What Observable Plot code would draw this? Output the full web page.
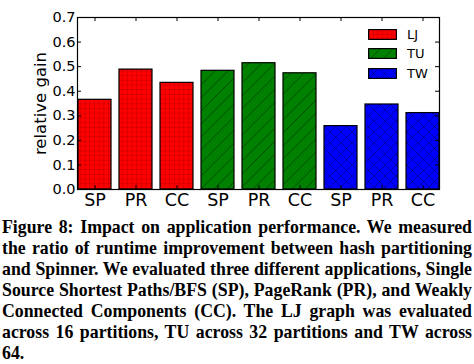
<!DOCTYPE html>
<html>
<head>
<meta charset="utf-8">
<script src="https://cdn.jsdelivr.net/npm/d3@7"></script>
<script src="https://cdn.jsdelivr.net/npm/@observablehq/plot@0.6"></script>
<style>
  html, body { margin: 0; padding: 0; background: #fff; }
  #wrap { position: relative; width: 474px; height: 364px; overflow: hidden; }
  #chart svg { display: block; }
  #legend { position: absolute; left: 368px; top: 24.5px; font-family: "DejaVu Sans", sans-serif; font-size: 13px; color: #000; }
  #legend .row { display: flex; align-items: center; height: 19.5px; }
  #legend svg { display: block; margin-right: 10px; }
  #caption { font-family: "Liberation Serif", "Times New Roman", serif; font-weight: bold; font-size: 17.8px; line-height: 21px; color: #000; padding: 0 2px; margin-top: 6.3px; }
  #caption span { display: block; text-align: justify; text-align-last: justify; white-space: nowrap; }
  #caption span.last { text-align-last: left; }
</style>
</head>
<body>
<svg width="0" height="0" style="position:absolute">
  <defs>
    <pattern id="hatch-LJ" patternUnits="userSpaceOnUse" width="4.7" height="4.7">
      <rect width="4.7" height="4.7" fill="#ff0000"/>
      <path d="M0,0V4.7M0,0H4.7" stroke="#000" stroke-opacity="0.35" stroke-width="0.7"/>
    </pattern>
    <pattern id="hatch-TU" patternUnits="userSpaceOnUse" width="13" height="13">
      <rect width="13" height="13" fill="#008000"/>
      <path d="M-2,15L15,-2M-2,2L2,-2M11,15L15,11" stroke="#000" stroke-opacity="0.45" stroke-width="0.8"/>
    </pattern>
    <pattern id="hatch-TW" patternUnits="userSpaceOnUse" width="11" height="11">
      <rect width="11" height="11" fill="#0000ff"/>
      <path d="M-1,12L12,-1M-1,-1L12,12" stroke="#000" stroke-opacity="0.4" stroke-width="0.8"/>
    </pattern>
  </defs>
</svg>
<div id="wrap">
  <div id="chart"></div>
  <div id="legend"></div>
  <div id="caption">
    <span>Figure 8: Impact on application performance. We measured</span>
    <span>the ratio of runtime improvement between hash partitioning</span>
    <span>and Spinner. We evaluated three different applications, Single</span>
    <span>Source Shortest Paths/BFS (SP), PageRank (PR), and Weakly</span>
    <span>Connected Components (CC). The LJ graph was evaluated</span>
    <span>across 16 partitions, TU across 32 partitions and TW across</span>
    <span class="last">64.</span>
  </div>
</div>
<script>
const groups = ["LJ", "TU", "TW"];
const apps = ["SP", "PR", "CC"];
const ljValues = [0.365, 0.488, 0.434];
const tuValues = [0.483, 0.514, 0.473];
const twValues = [0.258, 0.346, 0.311];
const yTicks = [0, 0.1, 0.2, 0.3, 0.4, 0.5, 0.6, 0.7];

const seriesValues = {LJ: ljValues, TU: tuValues, TW: twValues};
const rows = groups.flatMap(g => apps.map((a, i) => ({group: g, app: a, key: g + "-" + a, value: seriesValues[g][i]})));
const keys = rows.map(r => r.key);

const W = 474, H = 211;
const mL = 77, mR = 35, mT = 17, mB = 22;
const pw = W - mL - mR, ph = H - mT - mB;

const chart = Plot.plot({
  width: W, height: H,
  marginLeft: mL, marginRight: mR, marginTop: mT, marginBottom: mB,
  style: {fontFamily: "DejaVu Sans, sans-serif", fontSize: "14px", color: "#000", background: "#fff", overflow: "visible"},
  x: {domain: keys, paddingInner: 0.2, paddingOuter: 0, axis: null, label: null},
  y: {domain: [0, 0.7], axis: null, label: null},
  marks: [
    ...groups.map(g => Plot.barY(rows.filter(r => r.group === g), {x: "key", y: "value", fill: `url(#hatch-${g})`, stroke: "#000", strokeWidth: 1.2})),
    Plot.frame({stroke: "#000", strokeWidth: 1.2}),
    Plot.tickY(yTicks, {y: d => d, insetRight: pw - 4, stroke: "#000"}),
    Plot.tickY(yTicks, {y: d => d, insetLeft: pw - 4, stroke: "#000"}),
    Plot.tickX(keys, {x: d => d, insetBottom: ph - 4, stroke: "#000"}),
    Plot.tickX(keys, {x: d => d, insetTop: ph - 4, stroke: "#000"}),
    Plot.axisY(yTicks, {anchor: "left", label: null, tickSize: 0, tickPadding: 2, tickFormat: d3.format(".1f"), fontSize: 14.5}),
    Plot.axisX(keys, {anchor: "bottom", label: null, tickSize: 0, tickPadding: 4, tickFormat: k => k.split("-")[1], fontSize: 17.5}),
    Plot.text(["relative gain"], {frameAnchor: "left", text: d => d, rotate: -90, dx: -37, fontSize: 16.5, textAnchor: "middle", lineAnchor: "middle"})
  ]
});
document.getElementById("chart").appendChild(chart);

const legend = document.getElementById("legend");
for (const g of groups) {
  const row = document.createElement("div");
  row.className = "row";
  row.innerHTML = `<svg width="29" height="11"><rect x="0.6" y="0.6" width="27.8" height="9.8" fill="url(#hatch-${g})" stroke="#000" stroke-width="1.2"/></svg><span>${g}</span>`;
  legend.appendChild(row);
}
</script>
</body>
</html>
